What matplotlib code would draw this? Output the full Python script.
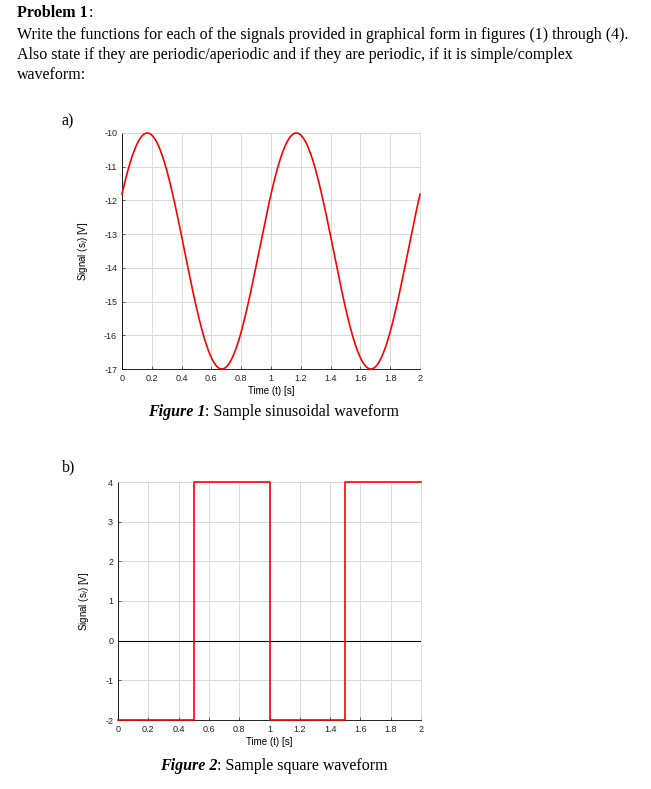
import matplotlib
matplotlib.use("Agg")
import matplotlib.pyplot as plt
import numpy as np

W, H = 651, 789

# figure 1: sinusoid
sine_offset = -13.5     # V
sine_amp = 3.5          # V
sine_freq = 1.0         # Hz
sine_peak_t = 0.17      # s, time of first maximum
t_max = 2.0

# figure 2: square wave
sq_t = [0, 0.5, 0.5, 1.0, 1.0, 1.5, 1.5, 2.0]
sq_v = [-2, -2, 4, 4, -2, -2, 4, 4]

xticks = [0, 0.2, 0.4, 0.6, 0.8, 1, 1.2, 1.4, 1.6, 1.8, 2]
xtick_labels = ["0", "0.2", "0.4", "0.6", "0.8", "1", "1.2", "1.4", "1.6", "1.8", "2"]

plt.rcParams["font.family"] = ["Liberation Sans", "DejaVu Sans"]
plt.rcParams["axes.unicode_minus"] = False
fig = plt.figure(figsize=(W / 100, H / 100), dpi=100)

serif = dict(family="Liberation Serif", fontsize=11.5)
fig.text(17 / W, 1 - 13 / H, "Problem 1", weight="bold", va="center", **serif)
fig.text(89 / W, 1 - 13 / H, ":", va="center", **serif)
lines = ["Write the functions for each of the signals provided in graphical form in figures (1) through (4).",
         "Also state if they are periodic/aperiodic and if they are periodic, if it is simple/complex",
         "waveform:"]
for i, s in enumerate(lines):
    fig.text(17 / W, 1 - (35 + 20 * i) / H, s, va="center", **serif)
fig.text(62 / W, 1 - 121 / H, "a)", va="center", **serif)
fig.text(62 / W, 1 - 467 / H, "b)", va="center", **serif)


def make_axes(l, r, t, b):
    ax = fig.add_axes([l / W, 1 - b / H, (r - l) / W, (b - t) / H])
    ax.grid(True, color="#d9d9d9", lw=0.7)
    ax.set_axisbelow(True)
    ax.tick_params(labelsize=6.5, length=2, width=0.5, direction="in", colors="#222222")
    for sp in ax.spines.values():
        sp.set_linewidth(0.6)
    for name in ("top", "right"):
        ax.spines[name].set_color("#d9d9d9")
    ax.set_xlim(0, t_max)
    ax.set_xticks(xticks, xtick_labels)
    ax.set_xlabel("Time (t) [s]", fontsize=7, labelpad=2)
    ax.set_ylabel("Signal (s$_i$) [V]", fontsize=7, labelpad=10)
    return ax


ax1 = make_axes(122, 420, 133, 369)
t = np.linspace(0, t_max, 600)
ax1.plot(t, sine_offset + sine_amp * np.cos(2 * np.pi * sine_freq * (t - sine_peak_t)),
         color="red", lw=1.2, clip_on=False, zorder=5)
ax1.set_ylim(-17, -10)
ax1.set_yticks(range(-17, -9))
fig.text(148 / W, 1 - 412 / H, "Figure 1", style="italic", weight="bold", va="center", **serif)
fig.text(205 / W, 1 - 412 / H, ": Sample sinusoidal waveform", va="center", **serif)

ax2 = make_axes(118, 421, 482, 720)
ax2.axhline(0, color="black", lw=0.8)
ax2.plot(sq_t, sq_v, color="red", lw=1.2, clip_on=False, zorder=5)
ax2.set_ylim(-2, 4)
ax2.set_yticks(range(-2, 5))
fig.text(160 / W, 1 - 766 / H, "Figure 2", style="italic", weight="bold", va="center", **serif)
fig.text(217 / W, 1 - 766 / H, ": Sample square waveform", va="center", **serif)

fig.savefig("out.png", dpi=100)
